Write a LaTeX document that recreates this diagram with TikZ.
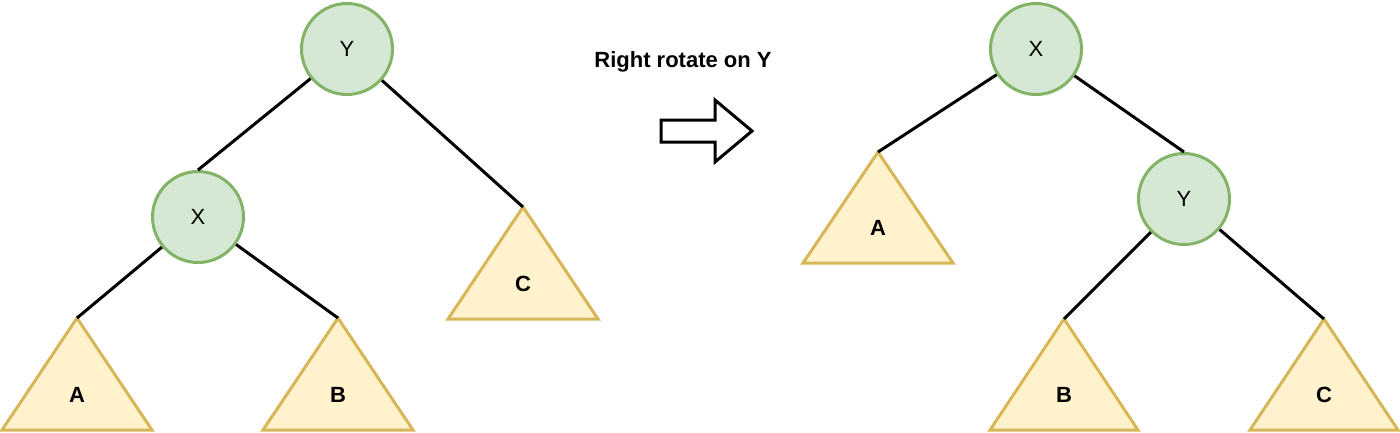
\documentclass[tikz,border=0pt]{standalone}
\usepackage{fontspec}
\setmainfont{Liberation Sans}
\definecolor{keyfill}{HTML}{D5E8D4}
\definecolor{keyline}{HTML}{82B366}
\definecolor{subfill}{HTML}{FFF2CC}
\definecolor{subline}{HTML}{D6B656}
\begin{document}
\begin{tikzpicture}[x=1pt, y=-1pt,
  key/.style = {circle, draw=keyline, fill=keyfill, line width=3pt, minimum size=91pt, inner sep=0pt, font=\fontsize{22}{26}\selectfont},
  sub/.style = {draw=subline, fill=subfill, line width=3pt},
  lbl/.style = {font=\bfseries\fontsize{22}{26}\selectfont},
  edge/.style = {line width=3pt}]
\useasboundingbox (0,0) rectangle (1400,432);
% before
\path (347,49) node[key] (lY) {Y};
\path (198,217) node[key] (lX) {X};
\coordinate (lA) at (77,318);
\coordinate (lB) at (338,318);
\coordinate (lC) at (523,207);
\draw[sub] (lA) -- ++(75,112) -- ++(-150,0) -- cycle;
\draw[sub] (lB) -- ++(75,112) -- ++(-150,0) -- cycle;
\draw[sub] (lC) -- ++(75,112) -- ++(-150,0) -- cycle;
\path (77,395) node[lbl] (lAtxt) {A};
\path (338,395) node[lbl] (lBtxt) {B};
\path (523,284) node[lbl] (lCtxt) {C};
\draw[edge] (lY) -- (lX.north);
\draw[edge] (lY) -- (lC);
\draw[edge] (lX) -- (lA);
\draw[edge] (lX) -- (lB);
% rotation
\path (683,62) node[font=\bfseries\fontsize{22}{26}\selectfont] (title) {Right rotate on Y};
\draw[line width=3pt, fill=white] (661,120) -- (715,120) -- (715,100) -- (752,131) -- (715,162) -- (715,142) -- (661,142) -- cycle;
% after
\path (1036,49) node[key] (rX) {X};
\path (1184,199) node[key] (rY) {Y};
\coordinate (rA) at (878,152);
\coordinate (rB) at (1064,319);
\coordinate (rC) at (1324,319);
\draw[sub] (rA) -- ++(75,111) -- ++(-150,0) -- cycle;
\draw[sub] (rB) -- ++(74,111) -- ++(-148,0) -- cycle;
\draw[sub] (rC) -- ++(74,111) -- ++(-148,0) -- cycle;
\path (878,228) node[lbl] (rAtxt) {A};
\path (1064,395) node[lbl] (rBtxt) {B};
\path (1324,395) node[lbl] (rCtxt) {C};
\draw[edge] (rX) -- (rA);
\draw[edge] (rX) -- (rY.north);
\draw[edge] (rY) -- (rB);
\draw[edge] (rY) -- (rC);
\end{tikzpicture}
\end{document}
